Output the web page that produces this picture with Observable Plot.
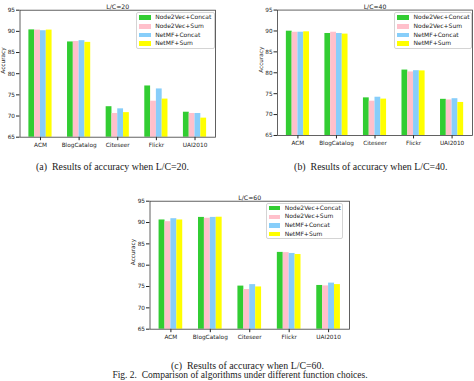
<!DOCTYPE html>
<html><head><meta charset="utf-8">
<script src="https://cdn.jsdelivr.net/npm/d3@7"></script>
<script src="https://cdn.jsdelivr.net/npm/@observablehq/plot@0.6"></script>
<style>
html,body{margin:0;padding:0;background:#fff;width:474px;height:381px;overflow:hidden;position:relative;}
.panel{position:absolute;}
.panel svg{overflow:visible;}
.legend{position:absolute;background:rgba(255,255,255,0.85);border:0.7px solid #d4d4d4;border-radius:2px;box-sizing:border-box;font-family:"DejaVu Sans";font-size:6px;color:#222;}
.legend .sw{position:absolute;width:11.7px;height:4.6px;}
.legend .lb{position:absolute;line-height:1;white-space:nowrap;}
.cap{position:absolute;font-family:"Liberation Serif";font-size:9.9px;line-height:1;white-space:nowrap;color:#1a1a1a;transform:translateX(-50%);}
</style></head><body>
<script>
const categories = ["ACM", "BlogCatalog", "Citeseer", "Flickr", "UAI2010"];
const methods = ["Node2Vec+Concat", "Node2Vec+Sum", "NetMF+Concat", "NetMF+Sum"];
const colors = ["#32cd32", "#ffc0cb", "#87cefa", "#ffff00"];
const yDomain = [65, 95];
const yTicks = [65, 70, 75, 80, 85, 90, 95];
const titles = ["L/C=20", "L/C=40", "L/C=60"];
const captions = ["(a)\u2002Results of accuracy when L/C=20.", "(b)\u2002Results of accuracy when L/C=40.", "(c)\u2002Results of accuracy when L/C=60."];
const figCaption = "Fig. 2.\u2002Comparison of algorithms under different function choices.";

// accuracy per method (rows) per dataset (columns)
const acc20 = [
  [90.35, 87.5, 72.2, 77.1, 70.9],
  [90.3, 87.6, 70.6, 73.5, 70.6],
  [90.15, 87.8, 71.7, 76.4, 70.6],
  [90.3, 87.4, 70.8, 74.0, 69.5]
];
const acc40 = [
  [89.95, 89.4, 74.0, 80.65, 73.65],
  [89.7, 89.7, 73.2, 80.2, 73.5],
  [89.7, 89.4, 74.15, 80.5, 73.8],
  [89.8, 89.25, 73.7, 80.45, 72.9]
];
const acc60 = [
  [90.6, 91.2, 75.1, 83.0, 75.25],
  [90.2, 91.0, 74.3, 82.95, 75.15],
  [90.9, 91.2, 75.45, 82.75, 75.8],
  [90.6, 91.25, 74.9, 82.5, 75.45]
];

const panels = [
  {values: acc20, left: 0, top: 0, width: 237, ml: 19.5, mr: 22, mt: 9.7, fh: 127,
   legend: {left: 136, top: 12.3, width: 78.5}, cap: {x: 112.5, base: 170.5}},
  {values: acc40, left: 237, top: 0, width: 240, ml: 40.5, mr: 2, mt: 9.7, fh: 127,
   legend: {left: 394.3, top: 12.3, width: 77.4}, cap: {x: 370.8, base: 170.5}},
  {values: acc60, left: 118, top: 185, width: 237, ml: 31.5, mr: 6, mt: 15.7, fh: 128,
   legend: {left: 265.5, top: 202.8, width: 77.5}, cap: {x: 247.5, base: 369}}
];

const barW = 0.15;
panels.forEach((p, k) => {
  const rows = categories.flatMap((c, i) => methods.map((m, j) => ({
    category: c, method: m,
    x1: i - 2 * barW + j * barW, x2: i - barW + j * barW,
    value: p.values[j][i]
  })));
  const mb = 22;
  const chart = Plot.plot({
    width: p.width, height: p.mt + p.fh + mb,
    marginLeft: p.ml, marginRight: p.mr, marginTop: p.mt, marginBottom: mb,
    style: {fontFamily: "DejaVu Sans", fontSize: "5.8px", color: "#222", background: "transparent", overflow: "visible"},
    x: {domain: [-0.53, 4.53], ticks: [0, 1, 2, 3, 4], tickFormat: i => categories[i], tickSize: 3.5, tickPadding: 2, label: null},
    y: {domain: yDomain, ticks: yTicks, tickSize: 3.5, tickPadding: 1.5, label: null},
    color: {domain: methods, range: colors},
    marks: [
      Plot.rect(rows, {x1: "x1", x2: "x2", y1: yDomain[0], y2: "value", fill: "method"}),
      Plot.frame({stroke: "#3a3a3a", strokeWidth: 0.8}),
      Plot.text([titles[k]], {frameAnchor: "top", dy: -5.6, fontSize: 6.2, fill: "#222", text: d => d}),
      Plot.text(["Accuracy"], {frameAnchor: "left", rotate: -90, dx: -16.8, fontSize: 5.8, fill: "#222", text: d => d})
    ]
  });
  const wrap = document.createElement("div");
  wrap.className = "panel";
  wrap.style.left = p.left + "px";
  wrap.style.top = p.top + "px";
  wrap.appendChild(chart);
  document.body.appendChild(wrap);

  const lg = document.createElement("div");
  lg.className = "legend";
  lg.style.left = p.legend.left + "px";
  lg.style.top = p.legend.top + "px";
  lg.style.width = p.legend.width + "px";
  lg.style.height = "36.6px";
  methods.forEach((m, j) => {
    const cy = 4.4 + j * 8.65;
    const sw = document.createElement("div");
    sw.className = "sw";
    sw.style.left = "2.2px";
    sw.style.top = (cy - 2.3) + "px";
    sw.style.background = colors[j];
    const lb = document.createElement("div");
    lb.className = "lb";
    lb.style.left = "18.2px";
    lb.style.top = (cy - 3.4) + "px";
    lb.textContent = m;
    lg.appendChild(sw);
    lg.appendChild(lb);
  });
  document.body.appendChild(lg);

  const cap = document.createElement("div");
  cap.className = "cap";
  cap.style.left = p.cap.x + "px";
  cap.style.top = (p.cap.base - 8.3) + "px";
  cap.textContent = captions[k];
  document.body.appendChild(cap);
});

const fc = document.createElement("div");
fc.className = "cap";
fc.style.left = "240px";
fc.style.top = (379 - 8.3) + "px";
fc.style.fontSize = "9.5px";
fc.textContent = figCaption;
document.body.appendChild(fc);
</script>
</body></html>
